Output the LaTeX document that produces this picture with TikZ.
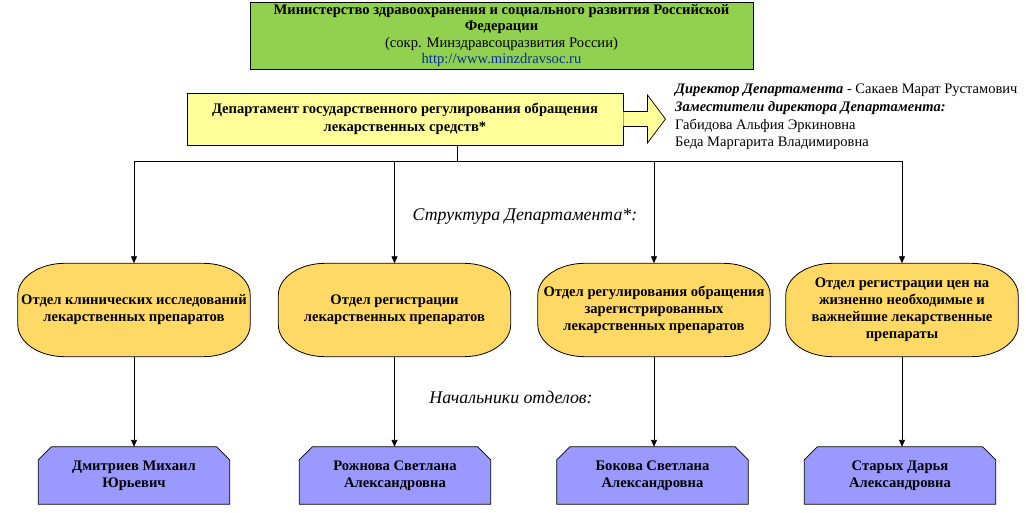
\documentclass[tikz,border=0pt]{standalone}
\usepackage{fontspec}
\setmainfont{Liberation Serif}
\usetikzlibrary{arrows.meta,backgrounds,calc}
\definecolor{mingreen}{RGB}{146,208,80}
\definecolor{deptyellow}{RGB}{255,255,153}
\definecolor{stadorange}{RGB}{255,217,102}
\definecolor{bosspurple}{RGB}{153,153,255}
\definecolor{linkblue}{RGB}{0,51,153}
\tikzset{
  boxtext/.style={font=\fontsize{14.6}{17}\selectfont\bfseries, align=center, inner sep=0pt},
  minbox/.style={draw, fill=mingreen, line width=0.9pt, minimum width=503pt, minimum height=67pt,
    inner sep=0pt, align=center, font=\fontsize{14.6}{16.5}\selectfont},
  deptbox/.style={boxtext, draw, fill=deptyellow, line width=0.9pt, minimum width=436pt, minimum height=52pt,
    font=\fontsize{14.6}{18}\selectfont\bfseries},
  stadnode/.style={boxtext, minimum width=232pt, minimum height=93pt},
  stadshape/.style={draw, fill=stadorange, line width=0.8pt},
  bossnode/.style={boxtext, minimum width=191pt, minimum height=57pt},
  bossshape/.style={draw, fill=bosspurple, line width=0.8pt},
  bigarrow/.style={draw, fill=deptyellow, line width=0.7pt},
  infotext/.style={align=left, inner sep=0pt, anchor=north west, font=\fontsize{14.5}{17.7}\selectfont},
  link/.style={draw, line width=0.9pt},
  linkarrow/.style={link, -{Triangle[width=6pt,length=7pt]}},
  caption/.style={inner sep=0pt, font=\fontsize{17.8}{20}\selectfont\itshape},
}
\newcommand{\drawstadium}[1]{%
  \path[stadshape] ([xshift=47pt]#1.north west) -- ([xshift=-47pt]#1.north east)
    arc[start angle=90, end angle=0, x radius=47pt, y radius=32pt]
    -- ([yshift=32pt]#1.south east)
    arc[start angle=0, end angle=-90, x radius=47pt, y radius=32pt]
    -- ([xshift=47pt]#1.south west)
    arc[start angle=270, end angle=180, x radius=47pt, y radius=32pt]
    -- ([yshift=-32pt]#1.north west)
    arc[start angle=180, end angle=90, x radius=47pt, y radius=32pt] -- cycle;}
\newcommand{\drawchamfer}[1]{%
  \path[bossshape] ([yshift=-13pt]#1.north west) -- ([xshift=13pt]#1.north west)
    -- ([xshift=-13pt]#1.north east) -- ([yshift=-13pt]#1.north east)
    -- (#1.south east) -- (#1.south west) -- cycle;}
\begin{document}
\begin{tikzpicture}[x=1pt, y=1pt]
\useasboundingbox (0,0) rectangle (1026,-513);

\node[minbox] (min) at (501.5,-35.5)
  {\bfseries Министерство здравоохранения и социального развития Российской\\
   \bfseries Федерации\\
   (сокр. Минздравсоцразвития России)\\
   \textcolor{linkblue}{http://www.minzdravsoc.ru}};

\node[deptbox] (dept) at (405,-119)
  {Департамент государственного регулирования обращения\\ лекарственных средств*};

\path[bigarrow] ($(dept.east)+(0,7.5)$) -- ++(24,0) -- ++(0,16.5) -- ($(dept.east)+(42,0)$)
  -- ($(dept.east)+(24,-24)$) -- ++(0,16.5) -- ($(dept.east)+(0,-7.5)$);

\node[infotext] (info) at (675,-84)
  {\textbf{\textit{Директор Департамента}} - Сакаев Марат Рустамович\\
   \textbf{\textit{Заместители директора Департамента:}}\\
   Габидова Альфия Эркиновна\\
   Беда Маргарита Владимировна};

\node[caption] (struct) at (525,-217) {Структура Департамента*:};
\node[caption] (heads) at (511,-397) {Начальники отделов:};

\node[stadnode] (d1) at (134,-310) {Отдел клинических исследований\\ лекарственных препаратов};
\node[stadnode] (d2) at (394.5,-310) {Отдел регистрации\\ лекарственных препаратов};
\node[stadnode] (d3) at (654,-310) {Отдел регулирования обращения\\ зарегистрированных\\ лекарственных препаратов};
\node[stadnode] (d4) at (902,-310) {Отдел регистрации цен на\\ жизненно необходимые и\\ важнейшие лекарственные\\ препараты};

\node[bossnode] (p1) at (134,-475.5) {Дмитриев Михаил\\ Юрьевич};
\node[bossnode] (p2) at (395,-475.5) {Рожнова Светлана\\ Александровна};
\node[bossnode] (p3) at (652.5,-475.5) {Бокова Светлана\\ Александровна};
\node[bossnode] (p4) at (900,-475.5) {Старых Дарья\\ Александровна};

\begin{scope}[on background layer]
  \fill[white] (0,0) rectangle (1026,-513);
  \foreach \n in {d1,d2,d3,d4} {\drawstadium{\n}}
  \foreach \n in {p1,p2,p3,p4} {\drawchamfer{\n}}
\end{scope}

\coordinate (bus) at (457,-161);
\draw[link] ($(dept.south)+(52,0)$) -- (bus);
\draw[link] (d1.north |- bus) -- (d4.north |- bus);
\foreach \i in {1,2,3,4} {
  \draw[linkarrow] (d\i.north |- bus) -- (d\i.north);
  \draw[linkarrow] (d\i.south) -- (d\i.south |- p\i.north);
}
\end{tikzpicture}
\end{document}
